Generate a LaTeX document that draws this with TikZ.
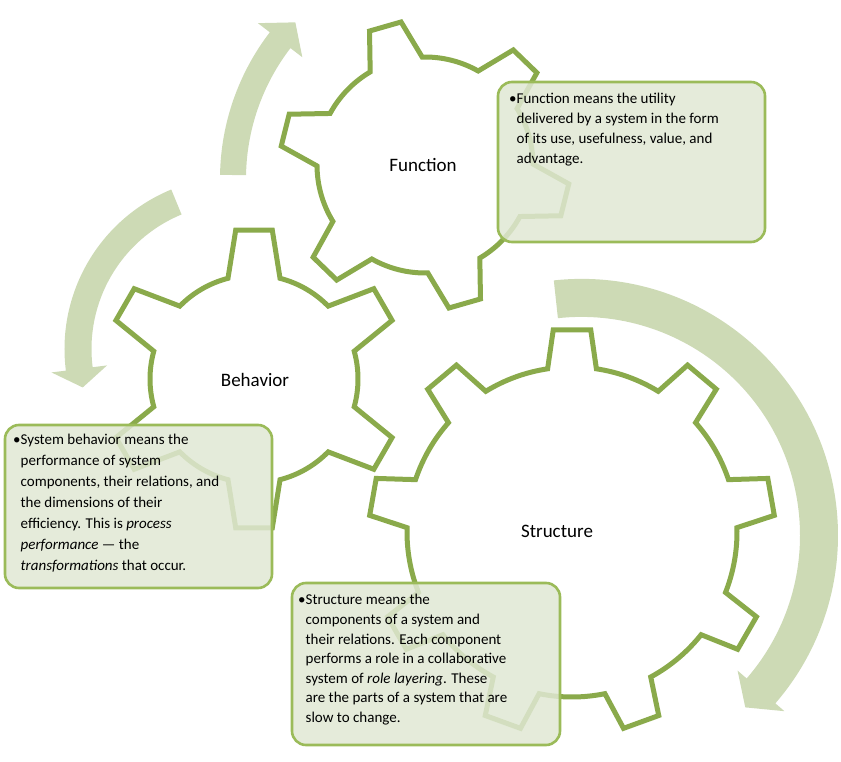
\documentclass[tikz,border=0pt]{standalone}
\usepackage{fontspec}
\setmainfont{Carlito}
\usetikzlibrary{calc}
\definecolor{gearc}{RGB}{138,170,75}
\definecolor{arrc}{RGB}{205,218,181}
\definecolor{boxfill}{RGB}{224,232,212}
\definecolor{boxline}{RGB}{155,187,89}
\tikzset{
  gearline/.style={draw=gearc,line width=5pt,fill=white,line join=miter},
  arrowfill/.style={fill=arrc},
  infobox/.style={draw=boxline,line width=2.6pt,fill=boxfill,fill opacity=0.85,rounded corners=14pt,inner sep=0pt},
  gearlabel/.style={font=\fontsize{19}{23}\selectfont,inner sep=0pt},
  infotext/.style={inner sep=0pt,anchor=north west,align=left}
}
\newcommand\geardraw[8]{% cx cy n rin rout off tip base
  \path[gearline] ($(#1pt,#2pt)+({#6-#8}:#4pt)$)
    \foreach \i in {1,...,#3}{
      -- ($(#1pt,#2pt)+({#6+360/#3*(\i-1)-#7}:#5pt)$)
      -- ($(#1pt,#2pt)+({#6+360/#3*(\i-1)+#7}:#5pt)$)
      -- ($(#1pt,#2pt)+({#6+360/#3*(\i-1)+#8}:#4pt)$)
      arc[start angle={#6+360/#3*(\i-1)+#8}, end angle={#6+360/#3*\i-#8}, radius=#4pt]
    } -- cycle;
}
\newcommand\garrow[8]{% cx cy r w a1 a2 a3 hw
  \fill[arrowfill] ($(#1pt,#2pt)+(#5:{(#3+#4/2)*1pt})$)
    arc[start angle=#5,end angle=#6,radius={(#3+#4/2)*1pt}]
    -- ($(#1pt,#2pt)+(#6:{(#3+#8)*1pt})$)
    -- ($(#1pt,#2pt)+(#7:#3pt)$)
    -- ($(#1pt,#2pt)+(#6:{(#3-#8)*1pt})$)
    -- ($(#1pt,#2pt)+(#6:{(#3-#4/2)*1pt})$)
    arc[start angle=#6,end angle=#5,radius={(#3-#4/2)*1pt}] -- cycle;
}
\begin{document}
\begin{tikzpicture}[x=1pt,y=1pt]
\useasboundingbox (0,0) rectangle (841,761);
% arrows
\garrow{461}{582}{228}{26}{179}{142.5}{136.6}{28}
\garrow{237}{412}{159}{27}{112.4}{187.2}{194}{28}
\garrow{581.5}{225.6}{237.5}{38}{96.2}{-40.9}{-46.4}{31}
% gears
\geardraw{572}{229}{9}{165}{203}{90}{5.3}{8.5}
\geardraw{254}{382}{6}{104}{150}{90}{7}{14.5}
\geardraw{425}{596}{6}{108}{145}{106}{6.5}{14.5}
% labels
\node[gearlabel] (lf) at (423,596) {Function};
\node[gearlabel] (lb) at (255,381) {Behavior};
\node[gearlabel] (ls) at (557,230) {Structure};
% boxes
\node[infobox,minimum width=267pt,minimum height=160pt] (bf) at (631.5,599) {};
\node[infobox,minimum width=267pt,minimum height=163pt] (bb) at (138.5,254.5) {};
\node[infobox,minimum width=268pt,minimum height=162pt] (bs) at (426,97) {};
\node[infotext] (tf) at (509,672) {\fontsize{15}{20}\selectfont
\begin{tabular}{@{}l@{}l@{}}
•&Function means the utility\\
&delivered by a system in the form\\
&of its use, usefulness, value, and\\
&advantage.
\end{tabular}};
\node[infotext] (tb) at (13,331) {\fontsize{15}{21}\selectfont
\begin{tabular}{@{}l@{}l@{}}
•\ &System behavior means the\\
&performance of system\\
&components, their relations, and\\
&the dimensions of their\\
&efficiency. This is \textit{process}\\
&\textit{performance} — the\\
&\textit{transformations} that occur.
\end{tabular}};
\node[infotext] (ts) at (298,170) {\fontsize{15}{19.6}\selectfont
\begin{tabular}{@{}l@{}l@{}}
•&Structure means the\\
&components of a system and\\
&their relations. Each component\\
&performs a role in a collaborative\\
&system of \textit{role layering}. These\\
&are the parts of a system that are\\
&slow to change.
\end{tabular}};
\end{tikzpicture}
\end{document}
